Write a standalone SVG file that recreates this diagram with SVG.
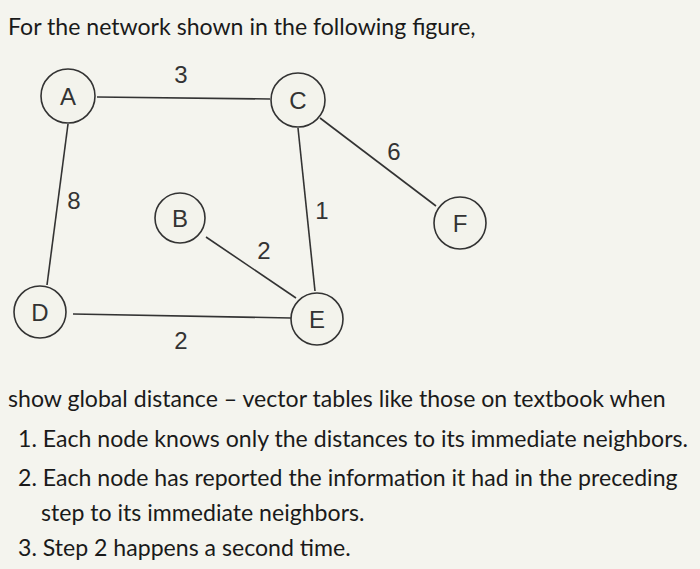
<svg xmlns="http://www.w3.org/2000/svg" width="700" height="569" viewBox="0 0 700 569">
<style>
.n circle{fill:#f3f3ec;stroke:#333;stroke-width:1.6}
.n text,.w{font-family:"Liberation Sans",Arial,sans-serif;font-size:24px;fill:#333;text-anchor:middle}
.t{font-family:Lato,"Liberation Sans",sans-serif;font-size:23.1px;fill:#1a1a1a}
#edges line{stroke:#333;stroke-width:1.6}
</style>
<rect width="700" height="569" fill="#f4f4ee"/>
<text class="t" x="8" y="35">For the network shown in the following figure,</text>
<g id="edges">
<line x1="97" y1="97" x2="270" y2="99"/>
<line x1="68" y1="124" x2="47" y2="285"/>
<line x1="298" y1="128" x2="315" y2="291"/>
<line x1="320" y1="118" x2="436" y2="206"/>
<line x1="206" y1="237" x2="296" y2="298"/>
<line x1="73" y1="314" x2="291" y2="318"/>
</g>
<g id="labels">
<text class="w" x="181" y="83">3</text>
<text class="w" x="74" y="209">8</text>
<text class="w" x="394" y="160">6</text>
<text class="w" x="322" y="219">1</text>
<text class="w" x="264" y="259">2</text>
<text class="w" x="181" y="349">2</text>
</g>
<g id="A" class="n"><circle cx="68" cy="96" r="27"/><text x="68" y="105">A</text></g>
<g id="C" class="n"><circle cx="298" cy="100" r="27"/><text x="298" y="109">C</text></g>
<g id="B" class="n"><circle cx="180" cy="218" r="25"/><text x="180" y="227">B</text></g>
<g id="F" class="n"><circle cx="460" cy="223" r="26"/><text x="460" y="232">F</text></g>
<g id="D" class="n"><circle cx="40" cy="312" r="26"/><text x="40" y="321">D</text></g>
<g id="E" class="n"><circle cx="317" cy="319" r="26"/><text x="317" y="328">E</text></g>
<text class="t" x="8" y="407">show global distance – vector tables like those on textbook when</text>
<text class="t" x="18" y="447">1. Each node knows only the distances to its immediate neighbors.</text>
<text class="t" x="18" y="486">2. Each node has reported the information it had in the preceding</text>
<text class="t" x="41" y="521">step to its immediate neighbors.</text>
<text class="t" x="18" y="556">3. Step 2 happens a second time.</text>
</svg>
